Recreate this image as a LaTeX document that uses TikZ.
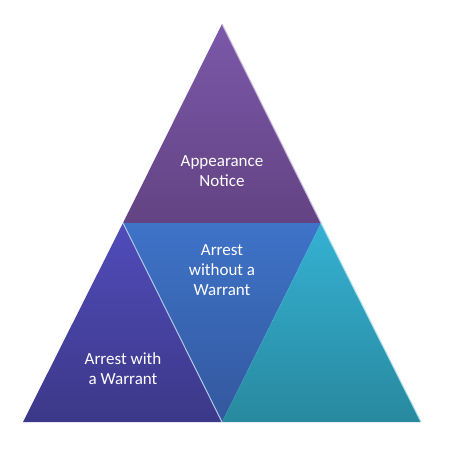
\documentclass[tikz,border=0pt]{standalone}
\usepackage{fontspec}
\setmainfont{Carlito}
\usepackage{xcolor}

\definecolor{topA}{HTML}{7B58A9}
\definecolor{topB}{HTML}{634383}
\definecolor{leftA}{HTML}{504CBA}
\definecolor{leftB}{HTML}{3C3888}
\definecolor{midA}{HTML}{3E73C8}
\definecolor{midB}{HTML}{33589E}
\definecolor{rightA}{HTML}{35B1D3}
\definecolor{rightB}{HTML}{28899F}

\tikzset{txt/.style={text=white, align=center, font=\fontsize{17}{20}\selectfont}}

\begin{document}
\begin{tikzpicture}[x=1pt,y=-1pt]
\useasboundingbox (0,0) rectangle (450,450);
\coordinate (apex) at (222,24);
\coordinate (bl) at (23,422);
\coordinate (br) at (421,422);
\coordinate (ml) at (123,223);
\coordinate (mr) at (321,223);
\coordinate (mb) at (222,422);

\shade[top color=topA, bottom color=topB] (apex) -- (mr) -- (ml) -- cycle;
\shade[top color=leftA, bottom color=leftB] (ml) -- (mb) -- (bl) -- cycle;
\shade[top color=midA, bottom color=midB] (ml) -- (mr) -- (mb) -- cycle;
\shade[top color=rightA, bottom color=rightB] (mr) -- (br) -- (mb) -- cycle;

% light edges
\draw[color=topA!40!white, line width=1pt] (apex) -- (mr);
\draw[color=rightA!40!white, line width=1pt] (mr) -- (br);
\draw[color=midA!40!white, line width=1pt] (ml) -- (mb);

\node[txt] (notice) at (222,171) {Appearance\\Notice};
\node[txt] (nowarrant) at (222,270) {Arrest\\without a\\Warrant};
\node[txt] (warrant) at (123,369) {Arrest with\\a Warrant};
\end{tikzpicture}
\end{document}
